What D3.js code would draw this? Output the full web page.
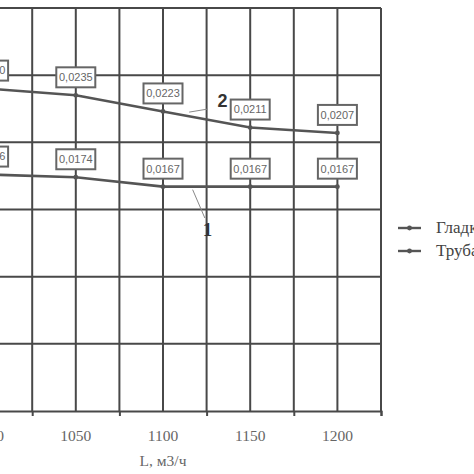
<!DOCTYPE html>
<html><head><meta charset="utf-8">
<script src="https://cdn.jsdelivr.net/npm/d3@7"></script>
<style>html,body{margin:0;padding:0;background:#fff;overflow:hidden}</style>
</head><body>
<svg id="c" width="474" height="474"></svg>
<script>
const categories = [1000, 1050, 1100, 1150, 1200];
const seriesSmooth = [0.0176, 0.0174, 0.0167, 0.0167, 0.0167]; // line 1
const seriesRough = [0.0240, 0.0235, 0.0223, 0.0211, 0.0207];  // line 2
const xTickLabels = ["1000", "1050", "1100", "1150", "1200"];
const legendNames = ["Гладкая труба", "Труба с насечкой"];
const xTitle = "L, м3/ч";

const svg = d3.select("#c");
const x = d3.scaleLinear().domain([975, 1225]).range([-55, 381]);
const y = d3.scaleLinear().domain([0, 0.03]).range([411, 8]);
const gridCol = "#484848";

// gridlines
const vGrid = d3.range(1000, 1226, 25);
svg.append("g").selectAll("line").data(vGrid).join("line")
  .attr("x1", d => x(d)).attr("x2", d => x(d))
  .attr("y1", y(0.03)).attr("y2", y(0))
  .attr("stroke", gridCol).attr("stroke-width", 2);
const hGrid = d3.range(0.005, 0.0301, 0.005);
svg.append("g").selectAll("line").data(hGrid).join("line")
  .attr("x1", x(975)).attr("x2", x(1225))
  .attr("y1", d => y(d)).attr("y2", d => y(d))
  .attr("stroke", gridCol).attr("stroke-width", 2);

// x axis
const xAxis = d3.axisBottom(x).tickValues([1025, 1075, 1125, 1175, 1225]).tickSize(5).tickFormat("");
const ax = svg.append("g").attr("transform", `translate(0,${y(0)})`).call(xAxis);
ax.select(".domain").attr("stroke", gridCol).attr("stroke-width", 2);
ax.selectAll(".tick line").attr("stroke", gridCol).attr("stroke-width", 2);
svg.append("g").selectAll("text").data(categories).join("text")
  .attr("x", d => x(d)).attr("y", 441)
  .attr("text-anchor", "middle")
  .attr("font-family", "'Liberation Serif', 'DejaVu Serif', serif").attr("font-size", 15.5)
  .attr("fill", "#666")
  .text((d, i) => xTickLabels[i]);
svg.append("text").attr("x", x(1100)).attr("y", 466)
  .attr("text-anchor", "middle")
  .attr("font-family", "'Liberation Serif', 'DejaVu Serif', serif").attr("font-size", 15.5)
  .attr("fill", "#666").text(xTitle);

// series
const lineCol = "#555";
const line = d3.line().x((d, i) => x(categories[i])).y(d => y(d));
[seriesSmooth, seriesRough].forEach(s => {
  svg.append("path").datum(s).attr("d", line)
    .attr("fill", "none").attr("stroke", lineCol).attr("stroke-width", 2.6);
  svg.append("g").selectAll("circle").data(s).join("circle")
    .attr("cx", (d, i) => x(categories[i])).attr("cy", d => y(d))
    .attr("r", 2.4).attr("fill", lineCol);
  const lab = svg.append("g").selectAll("g").data(s).join("g")
    .attr("transform", (d, i) => `translate(${x(categories[i])},${y(d) - 18})`);
  lab.append("rect").attr("x", -19.5).attr("y", -10).attr("width", 39).attr("height", 20)
    .attr("fill", "#fff").attr("stroke", "#666").attr("stroke-width", 2);
  lab.append("text").attr("text-anchor", "middle").attr("dy", "0.35em")
    .attr("font-family", "'Liberation Sans', Arial, sans-serif").attr("font-size", 11)
    .attr("fill", "#666")
    .text(d => d3.format(".4f")(d).replace(".", ","));
});

// annotations
svg.append("line").attr("x1", x(1125) + 1).attr("y1", y(0.0224) - 1)
  .attr("x2", x(1115)).attr("y2", y(0.0221) - 2)
  .attr("stroke", "#888").attr("stroke-width", 1);
svg.append("text").attr("x", x(1125) + 16).attr("y", 107)
  .attr("text-anchor", "middle").attr("font-family", "'Liberation Sans', Arial, sans-serif")
  .attr("font-weight", "bold").attr("font-size", 18).attr("fill", "#333").text("2");
svg.append("line").attr("x1", x(1117)).attr("y1", y(0.0167) + 3)
  .attr("x2", x(1124)).attr("y2", 218)
  .attr("stroke", "#888").attr("stroke-width", 1);
svg.append("text").attr("x", x(1125) + 1).attr("y", 236)
  .attr("text-anchor", "middle").attr("font-family", "'Liberation Serif', serif")
  .attr("font-weight", "bold").attr("font-size", 19).attr("fill", "#333").text("1");

// legend
const leg = svg.append("g").selectAll("g").data(legendNames).join("g")
  .attr("transform", (d, i) => `translate(398,${228 + i * 23})`);
leg.append("line").attr("x1", 0).attr("x2", 23).attr("y1", 0).attr("y2", 0)
  .attr("stroke", lineCol).attr("stroke-width", 2.4);
leg.append("circle").attr("cx", 11.5).attr("cy", 0).attr("r", 2.4).attr("fill", lineCol);
leg.append("text").attr("x", 38).attr("y", 5)
  .attr("font-family", "'Liberation Serif', 'DejaVu Serif', serif").attr("font-size", 17)
  .attr("fill", "#444").text(d => d);
</script>
</body></html>
